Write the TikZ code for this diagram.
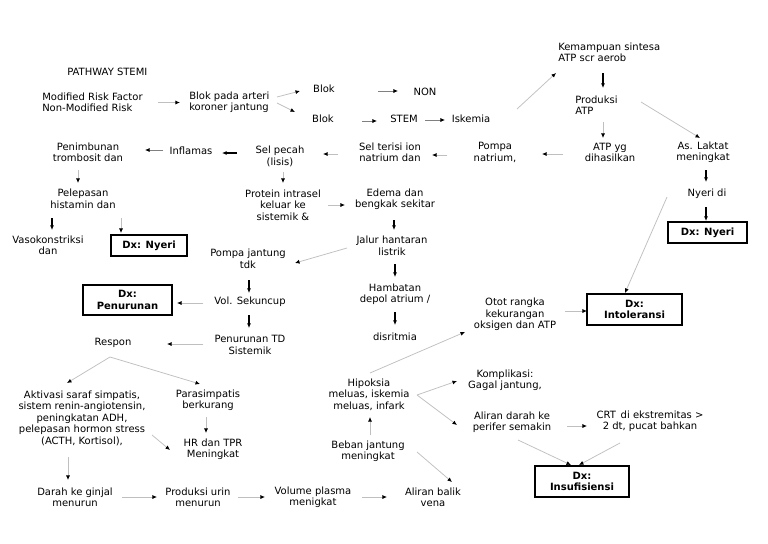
\documentclass[tikz,border=0pt]{standalone}
\usepackage{fontspec}
\setmainfont{DejaVu Sans}
\usetikzlibrary{arrows.meta,calc}
\begin{document}
\begin{tikzpicture}[x=0.75pt,y=-0.75pt,
  txt/.style={inner sep=0pt,align=center,font=\fontsize{7.5}{8.6}\selectfont},
  ltxt/.style={txt,align=left},
  dxbox/.style={draw=black,line width=0.9pt,inner sep=0pt,align=center,
    font=\fontsize{7.5}{8.6}\selectfont\bfseries},
  ga/.style={draw=gray!50,line width=0.55pt,-{Latex[length=3.4pt,width=3pt,color=black]}},
  ba/.style={draw=black,line width=0.9pt,-{Latex[length=3.4pt,width=3pt]}},
  gl/.style={draw=gray!50,line width=0.55pt}]
\useasboundingbox (0,0) rectangle (768,543);
\fill[white] (0,0) rectangle (768,543);
% nodes
\node[ltxt,anchor=west] (title) at (67,72) {PATHWAY STEMI};
\node[ltxt,anchor=west] (risk) at (42,102.5) {Modified Risk Factor\\Non-Modified Risk};
\node[ltxt,anchor=west] (blokarteri) at (189,102.5) {Blok pada arteri\\koroner jantung};
\node[txt] (blok1) at (324,89) {Blok};
\node[txt] (blok2) at (323,119) {Blok};
\node[txt] (non) at (425,92) {NON};
\node[txt] (stem) at (404,119) {STEM};
\node[txt] (isk) at (471,119) {Iskemia};
\node[ltxt,anchor=west] (kem) at (558,52.5) {Kemampuan sintesa\\ATP scr aerob};
\node[ltxt,anchor=west] (prod) at (575,105) {Produksi\\ATP};
\node[txt] (atpyg) at (610,152.5) {ATP yg\\dihasilkan};
\node[txt] (laktat) at (703,152.5) {As. Laktat\\meningkat};
\node[txt] (nyeridi) at (707,194) {Nyeri di};
\node[dxbox,minimum width=79*0.75pt,minimum height=21*0.75pt] (dxR) at (707.5,232.5) {Dx: Nyeri};
\node[dxbox,minimum width=95*0.75pt,minimum height=31*0.75pt] (dxint) at (634.5,309.5) {Dx:\\Intoleransi};
\node[txt] (pompanat) at (495,152.5) {Pompa\\natrium,};
\node[txt] (selterisi) at (390,152.5) {Sel terisi ion\\natrium dan};
\node[txt] (selpecah) at (280,156.5) {Sel pecah\\(lisis)};
\node[txt] (inflamas) at (191,151) {Inflamas};
\node[txt] (penimbunan) at (88,152.5) {Penimbunan\\trombosit dan};
\node[txt] (pelepasan) at (83,199) {Pelepasan\\histamin dan};
\node[txt] (vaso) at (48,245.5) {Vasokonstriksi\\dan};
\node[dxbox,minimum width=76*0.75pt,minimum height=21*0.75pt] (dxL) at (149,245.5) {Dx: Nyeri};
\node[txt] (protein) at (283,205) {Protein intrasel\\keluar ke\\sistemik \&};
\node[txt] (edema) at (395,199.5) {Edema dan\\bengkak sekitar};
\node[txt] (jalur) at (392,246) {Jalur hantaran\\listrik};
\node[txt] (pompaj) at (248,259) {Pompa jantung\\tdk};
\node[txt] (hambatan) at (395,294) {Hambatan\\depol atrium /};
\node[txt] (disritmia) at (395,337) {disritmia};
\node[txt] (otot) at (515,314.5) {Otot rangka\\kekurangan\\oksigen dan ATP};
\node[txt] (vol) at (250,302) {Vol. Sekuncup};
\node[dxbox,minimum width=89*0.75pt,minimum height=30*0.75pt] (dxpen) at (127.5,300) {Dx:\\Penurunan};
\node[txt] (penTD) at (250,345) {Penurunan TD\\Sistemik};
\node[txt] (respon) at (113,343) {Respon};
\node[txt] (aktivasi) at (82,418) {Aktivasi saraf simpatis,\\sistem renin-angiotensin,\\peningkatan ADH,\\pelepasan hormon stress\\(ACTH, Kortisol),};
\node[txt] (paras) at (208,400) {Parasimpatis\\berkurang};
\node[txt] (hr) at (213,449.5) {HR dan TPR\\Meningkat};
\node[txt] (darah) at (75,497.5) {Darah ke ginjal\\menurun};
\node[txt] (produrin) at (198,497.5) {Produksi urin\\menurun};
\node[txt] (volume) at (313,497) {Volume plasma\\menigkat};
\node[txt] (aliranbalik) at (433,497) {Aliran balik\\vena};
\node[txt] (beban) at (368,451) {Beban jantung\\meningkat};
\node[txt] (hipoksia) at (369,394.5) {Hipoksia\\meluas, iskemia\\meluas, infark};
\node[txt] (komplikasi) at (505,380.5) {Komplikasi:\\Gagal jantung,};
\node[txt] (alirandarah) at (512,422) {Aliran darah ke\\perifer semakin};
\node[txt] (crt) at (650,421.5) {CRT\, di ekstremitas >\\2 dt, pucat bahkan};
\node[dxbox,minimum width=94*0.75pt,minimum height=31*0.75pt] (dxins) at (582,481.5) {Dx:\\Insufisiensi};
% connectors
\draw[ga] ($(risk.west)+(116,0)$) -- ($(blokarteri.west)+(-9,0)$);
\draw[ga] ($(blokarteri.west)+(88,-5.5)$) -- ($(blok1)+(-24,2)$);
\draw[ga] ($(blokarteri.west)+(88,0.5)$) -- ($(blok2)+(-28,-7)$);
\draw[ga,draw=gray] ($(blok1)+(54,2)$) -- ($(non)+(-27,-1)$);
\draw[ga,draw=gray] ($(blok2)+(39,2)$) -- ($(stem)+(-27,2)$);
\draw[ga,draw=gray] ($(stem)+(21,1)$) -- ($(isk)+(-26,1)$);
\draw[ga] ($(isk)+(46,-10)$) -- ($(kem.west)+(-2,20.5)$);
\draw[ba] ($(kem.west)+(45,20.5)$) -- ($(prod.west)+(28,-17)$);
\draw[ga] ($(prod.west)+(66,-3)$) -- ($(laktat)+(-3,-14.5)$);
\draw[ga] ($(prod.west)+(28,17)$) -- ($(atpyg)+(-7,-14.5)$);
\draw[ga] ($(atpyg)+(-47,1.5)$) -- ($(pompanat)+(47,1.5)$);
\draw[ba] ($(laktat)+(3,17.5)$) -- ($(nyeridi)+(-1,-12)$);
\draw[ba] ($(nyeridi)+(-1,13)$) -- ($(dxR)+(-1.5,-11.5)$);
\draw[ga] ($(nyeridi)+(-40,3)$) -- ($(dxint)+(-9.5,-16.5)$);
\draw[ga] ($(pompanat)+(-48,2.5)$) -- ($(selterisi)+(42,2.5)$);
\draw[ga] ($(selterisi)+(-52,1.5)$) -- ($(selpecah)+(43,-2.5)$);
\draw[ba] ($(selpecah)+(-43,-3.5)$) -- ($(inflamas)+(31,2)$);
\draw[ga,draw=gray] ($(inflamas)+(-28,-1)$) -- ($(penimbunan)+(57,-2.5)$);
\draw[ga] ($(penimbunan)+(-10,17.5)$) -- ($(pelepasan)+(-5,-16)$);
\draw[ba] ($(pelepasan)+(-31,19)$) -- ($(vaso)+(4,-15.5)$);
\draw[ga] ($(pelepasan)+(38,19)$) -- ($(dxL)+(-28,-12.5)$);
\draw[ga] ($(selpecah)+(3,15.5)$) -- ($(protein)+(0,-22)$);
\draw[ga] ($(protein)+(45,0)$) -- ($(edema)+(-50,5.5)$);
\draw[ba] ($(edema)+(-1,20.5)$) -- ($(jalur)+(2,-16)$);
\draw[ga] ($(jalur)+(-45,2)$) -- ($(pompaj)+(47,4)$);
\draw[ba] ($(jalur)+(3,18)$) -- ($(hambatan)+(0,-17)$);
\draw[ba] ($(hambatan)+(0,18)$) -- ($(disritmia)+(0,-12)$);
\draw[ba] ($(pompaj)+(1,21)$) -- ($(vol)+(-1,-9)$);
\draw[ga] ($(vol)+(-47,1)$) -- ($(dxpen)+(49.5,3)$);
\draw[ba] ($(vol)+(-1,13)$) -- ($(penTD)+(-1,-17)$);
\draw[ga] ($(penTD)+(-47,-1)$) -- ($(respon)+(54,1)$);
\draw[ga] ($(respon)+(-3,14)$) -- ($(aktivasi)+(-15,-35)$);
\draw[ga] ($(respon)+(-3,14)$) -- ($(paras)+(-8,-16)$);
\draw[ga] ($(aktivasi)+(70,17)$) -- ($(hr)+(-43,0.5)$);
\draw[ga] ($(paras)+(-2,17)$) -- ($(hr)+(-7,-16.5)$);
\draw[ga] ($(aktivasi)+(-14,39)$) -- ($(darah)+(-7,-17.5)$);
\draw[ga] ($(darah)+(47,-0.5)$) -- ($(produrin)+(-41,-0.5)$);
\draw[ga] ($(produrin)+(40,-0.5)$) -- ($(volume)+(-48,0)$);
\draw[ga] ($(volume)+(49,0)$) -- ($(aliranbalik)+(-46,0)$);
\draw[ga] ($(beban)+(49,1)$) -- ($(aliranbalik)+(19,-15)$);
\draw[ga] ($(beban)+(2,-16)$) -- ($(hipoksia)+(1,22.5)$);
\draw[ga] ($(hipoksia)+(1,-21.5)$) -- ($(otot)+(-50,17.5)$);
\draw[ga] ($(hipoksia)+(48,0.5)$) -- ($(komplikasi)+(-48,0.5)$);
\draw[ga] ($(hipoksia)+(48,0.5)$) -- ($(alirandarah)+(-55,3)$);
\draw[ga] ($(alirandarah)+(55,4)$) -- ($(crt)+(-63,4.5)$);
\draw[ga] ($(alirandarah)+(6,18)$) -- ($(dxins)+(-11,-16.5)$);
\draw[ga] ($(crt)+(-30,21.5)$) -- ($(dxins)+(-3,-16.5)$);
\draw[ga] ($(otot)+(50,-3.5)$) -- ($(dxint)+(-47.5,1.5)$);
\end{tikzpicture}
\end{document}
